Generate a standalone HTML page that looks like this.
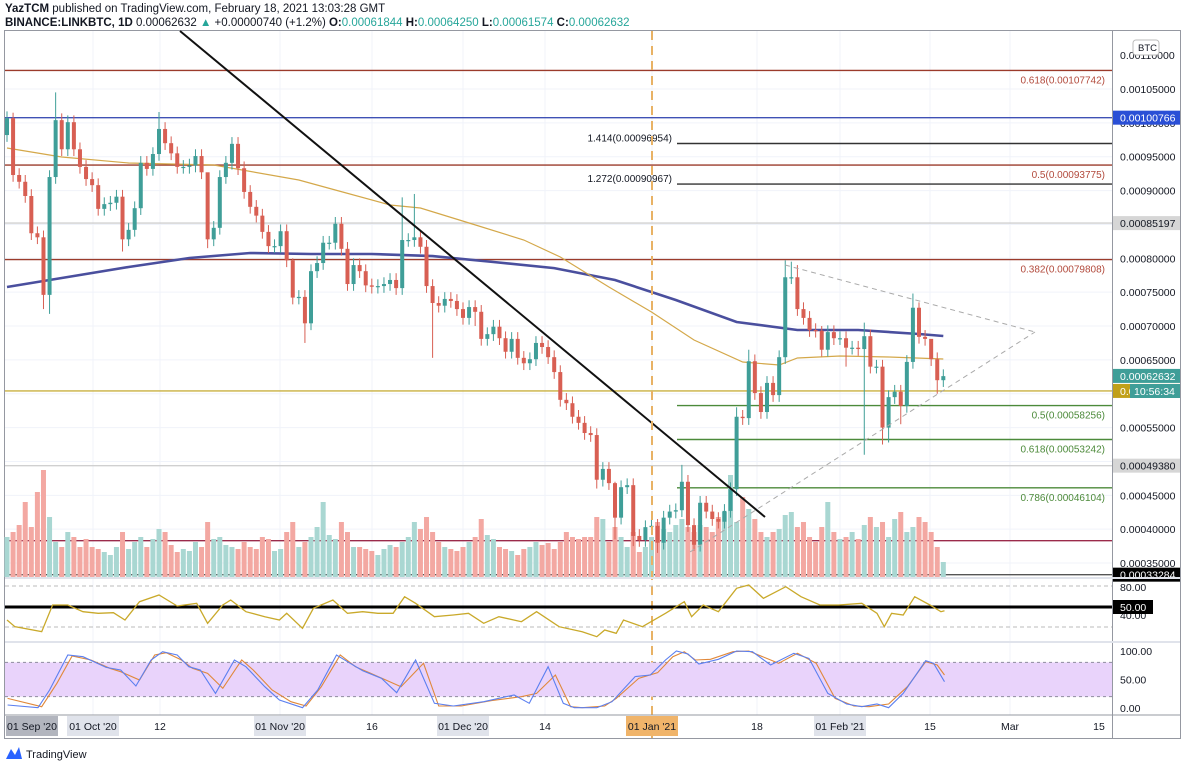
<!DOCTYPE html>
<html><head><meta charset="utf-8"><style>
body{margin:0;background:#fff;font-family:"Liberation Sans",sans-serif;}
#wrap{position:relative;width:1185px;height:768px;overflow:hidden;background:#fff}
svg text{font-family:"Liberation Sans",sans-serif}
</style></head><body>
<div id="wrap">
<svg id="chart" width="1185" height="768" viewBox="0 0 1185 768" xmlns="http://www.w3.org/2000/svg">
<text x="5" y="12" font-size="11.5" fill="#131722"><tspan font-weight="bold">YazTCM</tspan> published on TradingView.com, February 18, 2021 13:03:28 GMT</text>
<text x="5" y="26" font-size="11.5" fill="#131722"><tspan font-weight="bold">BINANCE:LINKBTC, 1D</tspan> 0.00062632 <tspan fill="#26a69a">▲</tspan> +0.00000740 (+1.2%) <tspan font-weight="bold">O:</tspan><tspan fill="#26a69a">0.00061844</tspan> <tspan font-weight="bold">H:</tspan><tspan fill="#26a69a">0.00064250</tspan> <tspan font-weight="bold">L:</tspan><tspan fill="#26a69a">0.00061574</tspan> <tspan font-weight="bold">C:</tspan><tspan fill="#26a69a">0.00062632</tspan></text>
<rect x="4.5" y="30.5" width="1176" height="708" fill="none" stroke="#9598a1"/>
<g id="grid"></g><g id="levels"></g><g id="vol"></g><g id="ma"></g><g id="candles"></g><g id="draw"></g><g id="axis"></g><g id="rsi"></g><g id="stoch"></g><g id="time"></g>
<g><path d="M6 759 L11 749 L15 755 L19 747 L22 759 Z" fill="#2962ff"/><text x="26" y="758" font-size="11" fill="#131722">TradingView</text></g>
</svg></div>
<script>
const closes=[100.7,92.3,91.3,89.2,83.7,83.1,74.6,92,100.4,96.1,100.1,96.1,93.5,91.7,90.8,87.3,88,88.2,89.1,82.8,84.2,87.4,94.1,93.2,95.4,99.1,97,95.5,93.5,93.5,93.7,95.1,92.7,82.8,84.5,92,94.1,96.9,93.3,89.8,87.6,86.3,83.9,81.8,81.8,84,79.7,74.2,74.3,
70.4,78.1,79.3,82.3,82.3,85.1,81.4,76.2,79,78.1,76,75.8,75.9,76.2,76.8,75.6,82.7,82.7,83.1,81.7,75.9,73.4,73,74,73.7,72.5,71.2,72.8,72.1,68.1,68.8,69.9,68.2,66.2,68.1,65.3,64.5,65.1,67.5,66.9,65.4,63.2,59.1,58.6,56.6,55.7,54.2,
53.9,47.3,48.9,46.8,41.7,46.2,46.5,39,38.4,40.3,40.5,38,41.7,42.6,42.8,47,40.6,37.7,43.9,42.6,41.5,41.1,42.7,45.9,56.6,56.4,64.8,60.1,57.3,61.6,59.8,65.4,77.2,77.2,72.5,71.2,69.4,69.3,66.5,69.1,68.2,68.2,66.8,66.8,66.6,68.5,64,64,55,59.5,60.3,58.2,64.7,72.7,68.4,68.1,65.1,62,62.6];
const firstOpen=98.2;
const highOverride={1:101.5,8:104.5,25:101.6,33:92.5,47:80,65:89,67:89.5,100:47,111:49.5,120:58,122:66.5,128:79.7,129:79.5,130:79,134:70,141:70.5,149:74.8,150:73.5,152:66};
const lowOverride={6:72.5,7:71.8,19:81,33:81.5,49:67.5,70:65.3,77:70,97:46,100:38.5,103:37.5,107:36.5,113:36.8,138:64,141:51,144:52.5,145:52.8,147:55.5,153:60};
const volumes=[40,45,52,75,50,85,107,60,35,30,45,40,30,38,30,28,25,22,30,45,28,35,40,30,38,48,45,32,25,28,26,35,30,55,38,40,32,30,28,35,30,28,40,38,26,28,45,55,30,
35,40,50,75,42,38,55,45,30,30,28,26,22,28,32,30,35,40,55,48,60,45,35,30,28,26,30,35,40,58,42,38,30,28,26,22,28,30,35,32,34,28,35,45,40,38,40,
40,60,58,35,50,40,30,45,25,30,40,55,48,45,52,58,50,45,52,50,45,60,65,102,55,80,68,58,45,40,45,48,62,65,50,55,40,35,50,75,45,38,40,45,38,52,60,50,55,40,58,65,45,50,60,55,45,30,15];
const ma200Idx=[0,10,20,30,40,50,60,70,80,90,100,110,120,130,140,150,154];
const ma200Val=[75.76,77.24,78.72,80.05,80.78,80.63,80.63,80.33,79.45,78.56,76.79,73.84,70.59,69.41,69.41,68.82,68.53];
const ma50Idx=[0,9,20,34,48,54,63,68,76,85,91,99,106,113,121,127,130,137,145,154];
const ma50Val=[96.29,94.96,94.07,93.78,91.56,90.09,87.87,87.43,85.21,82.7,80.19,75.76,72.07,67.94,64.69,64.24,65.28,65.57,65.43,65.13];
const rsiIdx=[0,1.3,5.7,7.5,10,12.5,15,17.5,19.4,21.8,25,28,31.2,33,35.5,36.8,39.3,42.4,44.8,46,48.6,50.4,53.6,56,58.5,61,63.5,65.4,67.2,70.3,73.4,75.9,78.4,80.9,84.6,87.1,90.8,94.6,97,98.3,100.2,101.4,104.5,108.3,111.4,112.6,114.5,117,120,122,124.4,128.1,130.6,133.7,136.8,140.6,143.1,144.3,145.5,147.4,149.3,151.8,153.6,154.2];
const rsiVal=[30.5,20.5,13,53,53,43,40.5,41.5,30.5,58,68,51.5,55.5,25.5,53,60.5,43,35.5,30.5,40.5,18,48,60.5,40.5,43,40.5,40.5,65.5,55.5,35.5,38,40.5,25.5,35.5,28,43,20.5,13,5.5,15.5,10.5,30.5,20.5,40.5,58,35.5,53,43,78,83,63,80.5,65.5,53,53,55.5,40.5,20.5,40.5,38,65.5,53,43,44.5];
const kIdx=[0.1,5.1,7,10,12.5,16.3,18.7,21.2,23.7,25.6,28,29.9,31.8,34.3,37.4,39.3,42.4,44.8,48.6,51.1,54.2,56,58.5,61.6,64.1,67.2,70.3,73.4,78.4,83.4,85.9,89,91.5,93.3,97,99.5,103.3,105.8,108.3,110.1,112,113.8,117,120,122.6,125.6,129.4,131.9,135,138.1,140.6,143.1,145,147.4,151.1,152.4,154.2];
const kVal=[5.3,0.5,31.6,93,90,71.3,66.7,38.6,84.2,98.8,93,72.5,66.7,25.7,84.2,72.5,37.4,14,0.5,31.6,93,81.3,65.5,52,26.9,84.2,8.2,3.5,11.1,22.8,8.2,72.5,8.2,0.5,0.5,11.1,55,57.9,84.2,100,94.7,77.2,85.4,100,98.8,75.4,95.9,87.1,25.7,7,2.3,7,0.5,25.7,83,78.4,46.2];
const dIdx=[0.1,5.7,8.2,10.7,13.8,16.9,18.7,21.8,24.3,26.2,28.7,30.5,33,35.5,38.6,40.5,43.6,46.7,49.2,51.7,54.8,57.3,59.8,62.3,64.8,68.5,71,74.7,79.7,84.6,87.1,90.2,92.7,94.6,98.3,100.2,103.9,107,109.5,111.4,113.2,115.7,119.4,122,126.9,130,133.1,136.2,139.3,141.8,145,148.1,151.1,153,154.2];
const dVal=[16.9,2.3,43.3,91.2,84.2,69.6,63.7,49.1,93,97.1,84.2,69.6,60.8,34.5,84.2,66.7,31.6,11.1,3.5,37.4,93,72.5,60.8,49.1,37.4,78.4,3.5,3.5,12.9,19.9,25.7,57.9,2.3,0.5,3.5,16.9,52,62,90,98.8,84.2,85.4,98.8,100,78.4,95.9,78.4,16.9,3.5,2.3,7,37.4,81.3,75.4,57.9];
const priceTicks=[105,100,95,90,85,80,75,70,65,60,55,50,45,40,35];

const NS="http://www.w3.org/2000/svg";
function X(i){return 7+i*6.08;}
function Y(p){return 89+(105-p)/5*33.86;}
function RY(v){return 607-(v-50)*0.667;}
function SY(v){return 708-v*0.57;}
function mk(tag,attrs,parent,txt){const e=document.createElementNS(NS,tag);for(const k in attrs)e.setAttribute(k,attrs[k]);if(txt!==undefined)e.textContent=txt;document.getElementById(parent).appendChild(e);return e;}

// grid
for(const p of priceTicks){const g=mk('line',{x1:5,x2:1112,y1:Y(p),y2:Y(p),stroke:'#f0f3fa'},'grid');

}
for(const gx of [93,160,280,372,463,545,652,757,840,930,1010]){const g=mk('line',{x1:gx,x2:gx,y1:31,y2:715,stroke:'#f0f3fa'},'grid');

}

// horizontal levels
const levels=[
 {p:107.742,c:'#9b3b2b',x1:5,lab:'0.618(0.00107742)',lc:'#b24a3c',lx:1105,anchor:'end'},
 {p:100.766,c:'#3f51b5',x1:5},
 {p:96.954,c:'#333',x1:677,lab:'1.414(0.00096954)',lc:'#131722',lx:672,anchor:'end'},
 {p:93.775,c:'#9b3b2b',x1:5,lab:'0.5(0.00093775)',lc:'#b24a3c',lx:1105,anchor:'end'},
 {p:90.967,c:'#333',x1:677,lab:'1.272(0.00090967)',lc:'#131722',lx:672,anchor:'end'},
 {p:85.197,c:'#d0d0d0',x1:5},
 {p:79.808,c:'#9b3b2b',x1:5,lab:'0.382(0.00079808)',lc:'#b24a3c',lx:1105,anchor:'end'},
 {p:60.415,c:'#c9b040',x1:5},
 {p:58.256,c:'#4c8a3a',x1:677,lab:'0.5(0.00058256)',lc:'#4c8a3a',lx:1105,anchor:'end'},
 {p:53.242,c:'#4c8a3a',x1:677,lab:'0.618(0.00053242)',lc:'#4c8a3a',lx:1105,anchor:'end'},
 {p:49.38,c:'#d0d0d0',x1:5},
 {p:46.104,c:'#4c8a3a',x1:677,lab:'0.786(0.00046104)',lc:'#4c8a3a',lx:1105,anchor:'end'},
 {p:38.3,c:'#9b2b4b',x1:5},
 {p:33.284,c:'#555',x1:5}];
for(const L of levels){const l=mk('line',{x1:L.x1,x2:1112,y1:Y(L.p),y2:Y(L.p),stroke:L.c,'stroke-width':1.4},'levels');


if(L.lab){const t=mk('text',{x:L.lx,y:Y(L.p)+(L.x1===5&&L.lx>1000?13:-2)+(L.lc==='#4c8a3a'?0:0),'font-size':10,fill:L.lc,'text-anchor':L.anchor},'levels',L.lab);
if(L.lc!=='#131722')t.setAttribute('y',Y(L.p)+13);

}}

// volume
for(let i=0;i<closes.length;i++){const o=i?closes[i-1]:firstOpen;const up=closes[i]>=o;const v=volumes[i]||30;
const r=mk('rect',{x:X(i)-2.5,y:577-v,width:5,height:v,fill:up?'#a9d7d2':'#f3a8a2'},'vol');

}

// moving averages
function poly(idx,val,yf,g,color,w,name){const d=idx.map((ix,k)=>(k?'L':'M')+X(ix).toFixed(1)+' '+yf(val[k]).toFixed(1)).join(' ');
const p=mk('path',{d:d,fill:'none',stroke:color,'stroke-width':w},g);

}
poly(ma200Idx,ma200Val,Y,'ma','#4a4f9e',2.6,'ma-200-line');
poly(ma50Idx,ma50Val,Y,'ma','#d4a84a',1.2,'ma-50-line');

// candles
for(let i=0;i<closes.length;i++){const o=i?closes[i-1]:firstOpen,c=closes[i];const up=c>=o;const col=up?'#3f9e98':'#d85f53';
const hi=highOverride[i]!==undefined?highOverride[i]:Math.max(o,c)+1;const lo=lowOverride[i]!==undefined?lowOverride[i]:Math.min(o,c)-1;
const w=mk('line',{x1:X(i),x2:X(i),y1:Y(hi),y2:Y(lo),stroke:col,'stroke-width':1},'candles');


const top=Y(Math.max(o,c)),h=Math.max(1.2,Y(Math.min(o,c))-top);
const b=mk('rect',{x:X(i)-2,y:top,width:4,height:h,fill:col},'candles');

}

// drawings
const tl=mk('line',{x1:180,y1:31,x2:765,y2:517,stroke:'#111','stroke-width':2},'draw');


const vd=mk('line',{x1:652,y1:31,x2:652,y2:738,stroke:'#e8b265','stroke-width':2,'stroke-dasharray':'9 6'},'draw');


const tu=mk('line',{x1:785,y1:265,x2:1035,y2:332,stroke:'#aaa','stroke-width':1,'stroke-dasharray':'5 4'},'draw');


const tb=mk('line',{x1:690,y1:552,x2:1035,y2:332,stroke:'#aaa','stroke-width':1,'stroke-dasharray':'5 4'},'draw');



// axis
const ax=mk('line',{x1:1112.5,x2:1112.5,y1:31,y2:738,stroke:'#9598a1'},'axis');


for(const p of [110].concat(priceTicks)){if(p===85||p===60||p===50)continue;const t=mk('text',{x:1120,y:Y(p)+4,'font-size':10.5,fill:'#131722'},'axis',(p/100000).toFixed(8));

}
const boxes=[[100.766,'#2a4fd6','#fff','0.00100766'],[85.197,'#d6d6d6','#131722','0.00085197'],[62.632,'#3f9e98','#fff','0.00062632'],[60.415,'#c1a01a','#fff','0.00060415'],[49.38,'#d6d6d6','#131722','0.00049380'],[33.284,'#000','#fff','0.00033284']];
for(const b of boxes){const r=mk('rect',{x:1113,y:Y(b[0])-7,width:67,height:14,fill:b[1]},'axis');


const t=mk('text',{x:1120,y:Y(b[0])+4,'font-size':10.5,fill:b[2]},'axis',b[3]);

}
const cd=mk('rect',{x:1130,y:384,width:50,height:14,fill:'#3f9e98'},'axis');


const cdt=mk('text',{x:1134,y:395,'font-size':10.5,fill:'#fff'},'axis','10:56:34');


const btc=mk('rect',{x:1133,y:40,width:26,height:15,rx:3,fill:'#fff',stroke:'#bbb'},'axis');


const btct=mk('text',{x:1138,y:51,'font-size':9.5,fill:'#131722'},'axis','BTC');



// pane separators
for(const sy of [578,642]){const s=mk('line',{x1:5,x2:1180,y1:sy,y2:sy,stroke:'#e0e3eb','stroke-width':2},'rsi');

}

// RSI pane
for(const dy of [586,627]){const d=mk('line',{x1:5,x2:1112,y1:dy,y2:dy,stroke:'#bbb','stroke-dasharray':'4 3'},'rsi');

}
const r50=mk('line',{x1:5,x2:1112,y1:RY(50),y2:RY(50),stroke:'#000','stroke-width':3},'rsi');


poly(rsiIdx,rsiVal,RY,'rsi','#c9a92a',1.3,'rsi-line');
const r80=mk('text',{x:1120,y:591,'font-size':10.5,fill:'#131722'},'rsi','80.00');


const r40=mk('text',{x:1120,y:619,'font-size':10.5,fill:'#131722'},'rsi','40.00');


const rb=mk('rect',{x:1113,y:600,width:40,height:14,fill:'#000'},'rsi');


const rbt=mk('text',{x:1120,y:611,'font-size':10.5,fill:'#fff'},'rsi','50.00');



// Stoch RSI pane
const band=mk('rect',{x:5,y:SY(80),width:1107,height:SY(20)-SY(80),fill:'#e9d3fb'},'stoch');


for(const v of [80,20]){const d=mk('line',{x1:5,x2:1112,y1:SY(v),y2:SY(v),stroke:'#8e8e9e','stroke-dasharray':'3 3'},'stoch');

}
poly(dIdx,dVal,SY,'stoch','#e0883a',1.1,'stoch-d-line');
poly(kIdx,kVal,SY,'stoch','#5b7ff0',1.1,'stoch-k-line');
for(const v of [100,50,0]){const t=mk('text',{x:1120,y:SY(v)+4,'font-size':10.5,fill:'#131722'},'stoch',v.toFixed(2));

}

// time axis
const ta=mk('line',{x1:5,x2:1180,y1:715,y2:715,stroke:'#9598a1'},'time');


const timeLabels=[['01 Sep \'20',32,'#b2b5be'],['01 Oct \'20',93,'#e0e3eb'],['12',160,null],['01 Nov \'20',280,'#e0e3eb'],['16',372,null],['01 Dec \'20',463,'#e0e3eb'],['14',545,null],['01 Jan \'21',652,'#f0b46a'],['18',757,null],['01 Feb \'21',840,'#e0e3eb'],['15',930,null],['Mar',1010,null],['15',1099,null]];
for(const tlb of timeLabels){if(tlb[2]){const r=mk('rect',{x:tlb[1]-26,y:716,width:52,height:20,fill:tlb[2]},'time');

}
const t=mk('text',{x:tlb[1],y:730,'font-size':10.5,fill:'#131722','text-anchor':'middle'},'time',tlb[0]);

}
</script>
</body></html>
